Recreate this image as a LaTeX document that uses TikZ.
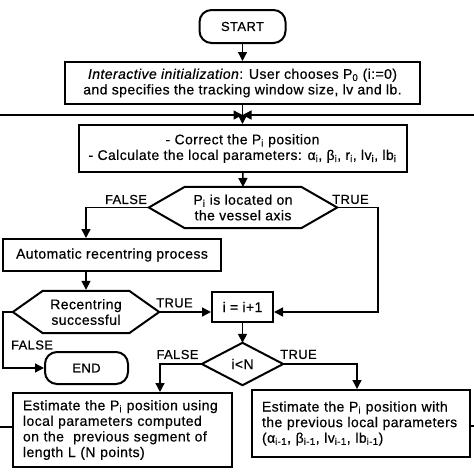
\documentclass[tikz,border=0pt]{standalone}
\usepackage{fontspec}
\setmainfont{Liberation Sans}[LetterSpace=3,FakeBold=0.5]
\usetikzlibrary{arrows.meta}
\newcommand\fsmain{\fontsize{14}{15.6}\selectfont}
\newcommand\fslab{\fontsize{13}{14}\selectfont}
\newcommand\sbs[1]{\textsubscript{#1}}
\begin{document}
\begin{tikzpicture}[x=1pt,y=-1pt,
  box/.style={draw, line width=2pt, inner sep=0pt, align=center, font=\fsmain},
  term/.style={box, rounded corners=12pt},
  lbox/.style={draw, line width=2pt, inner ysep=0pt, inner xsep=10pt, align=left, font=\fsmain},
  hexlabel/.style={inner sep=0pt, align=center, font=\fsmain},
  outline/.style={line width=2pt, line join=miter},
  conn/.style={line width=1.4pt, -{Triangle[length=9pt,width=9pt]}},
  plain/.style={line width=1.4pt},
  lab/.style={inner sep=0pt, font=\fslab}]
\useasboundingbox (0,0) rectangle (474,474);

% nodes
\node[term, minimum width=86pt, minimum height=33pt, font=\fslab] (start) at (242.5,26.5) {START};
\node[box, minimum width=355pt, minimum height=42pt] (init) at (242.5,83)
  {\textit{Interactive initialization}: User chooses P\sbs{0} (i:=0)\\and specifies the tracking window size, lv and lb.};
\coordinate (j) at (242.5,115);
\coordinate (TL) at (0,115);
\coordinate (TR) at (474,115);
\node[box, minimum width=328pt, minimum height=47pt] (calc) at (242.5,148.5)
  {- Correct the P\sbs{i} position\\- Calculate the local parameters: α\sbs{i}, β\sbs{i}, r\sbs{i}, lv\sbs{i}, lb\sbs{i}};
\node[hexlabel, minimum width=188pt, minimum height=41pt] (h1) at (243,207.5)
  {P\sbs{i} is located on\\the vessel axis};
\draw[outline] (h1.west) -- ([xshift=36pt]h1.north west) -- ([xshift=-36pt]h1.north east)
  -- (h1.east) -- ([xshift=-36pt]h1.south east) -- ([xshift=36pt]h1.south west) -- cycle;
\node[box, minimum width=218pt, minimum height=32pt] (b3) at (112,255) {Automatic recentring process};
\node[hexlabel, minimum width=146pt, minimum height=42pt] (h2) at (86,312)
  {Recentring\\successful};
\draw[outline] (h2.west) -- ([xshift=30pt]h2.north west) -- ([xshift=-30pt]h2.north east)
  -- (h2.east) -- ([xshift=-30pt]h2.south east) -- ([xshift=30pt]h2.south west) -- cycle;
\node[box, minimum width=61pt, minimum height=30pt] (inc) at (242.5,307) {i = i+1};
\node[hexlabel, minimum width=81pt, minimum height=42pt] (d) at (242.5,364) {i<N};
\draw[outline] (d.west) -- (d.north) -- (d.east) -- (d.south) -- cycle;
\node[term, minimum width=83pt, minimum height=32pt, font=\fslab] (endn) at (86.5,368) {END};
\node[lbox, text width=199pt, minimum height=74pt] (b4) at (122.5,430)
  {Estimate the P\sbs{i} position using\\local parameters computed\\on the\ \ previous segment of\\length L (N points)};
\node[lbox, text width=198pt, minimum height=67pt] (b5) at (361,423.5)
  {Estimate the P\sbs{i} position with\\the previous local parameters\\(α\sbs{i-1}, β\sbs{i-1}, lv\sbs{i-1}, lb\sbs{i-1})};

% helper coordinates
\coordinate (t1) at (378,0);
\coordinate (f2) at (3,0);
\coordinate (c4) at (160,0);
\coordinate (c5) at (357,0);
\coordinate (L) at (0,427);
\coordinate (R) at (474,426);

% labels
\node[lab] (lf1) at (126,199.5) {FALSE};
\node[lab] (lt1) at (350.5,199.5) {TRUE};
\node[lab] (lt2) at (174.5,303) {TRUE};
\node[lab] (lf2) at (32,345) {FALSE};
\node[lab] (lf3) at (177.5,354.5) {FALSE};
\node[lab] (lt3) at (298.5,354.5) {TRUE};

% connectors
\draw[conn] (start) -- (init);
\draw[conn] (init) -- (calc);
\draw[conn] (TL) -- (j);
\draw[conn] (TR) -- (j);
\draw[conn] (calc) -- (h1.north |- 0,187);
\draw[conn] (h1.west) -| (h2.north |- b3.north);
\draw[conn] (b3.south -| h2.north) -- ([yshift=1pt]h2.north);
\draw[conn] (h1.east) -| (t1 |- h2.east) -- (inc.east |- h2.east);
\draw[conn] (h2.east) -- (inc.west |- h2.east);
\draw[conn] (h2.west) -| (f2 |- endn.west) -- (endn.west);
\draw[conn] (inc) -- (d.north);
\draw[conn] (d.west) -| (c4 |- b4.north);
\draw[conn] (d.east) -| (c5 |- b5.north);
\draw[plain] (b4.west |- L) -- (L);
\draw[plain] (b5.east |- R) -- (R);
\end{tikzpicture}
\end{document}
